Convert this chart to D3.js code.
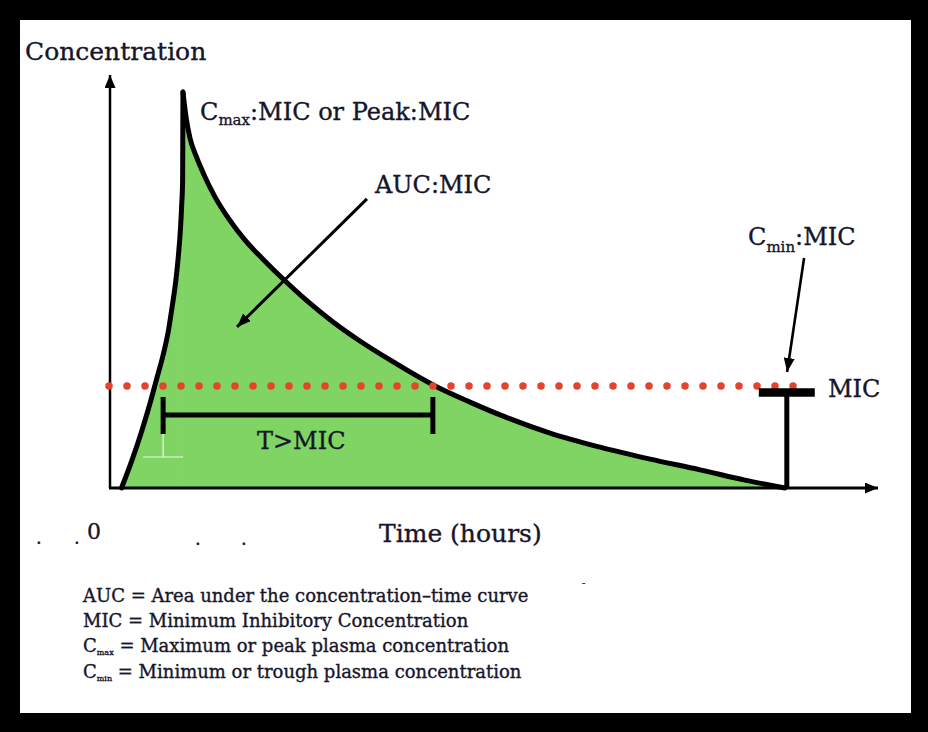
<!DOCTYPE html>
<html>
<head>
<meta charset="utf-8">
<script src="https://cdn.jsdelivr.net/npm/d3@7"></script>
<style>
  html, body { margin: 0; padding: 0; background: #000; }
  svg { display: block; }
  text { font-family: "DejaVu Serif", "Liberation Serif", serif; fill: #16162a; stroke: #16162a; stroke-width: 0.35px; }
</style>
</head>
<body>
<script>
// ---- data (time in hours, concentration in arbitrary units) ----
const riseTime  = [0.36, 0.69, 1.00, 1.28, 1.45, 1.66, 1.83, 1.95, 2.06, 2.14, 2.20, 2.24, 2.27, 2.28];
const riseConc  = [0.00, 0.68, 1.40, 2.13, 2.62, 3.22, 3.83, 4.43, 5.04, 5.65, 6.25, 6.85, 7.46, 9.59];
const decayTime = [2.28, 2.38, 2.50, 2.69, 2.94, 3.28, 3.72, 4.22, 4.78, 5.41, 6.16, 6.97, 7.81, 8.75, 10.16, 11.25, 12.19, 13.75, 15.31, 16.88, 18.44, 19.84, 21.09];
const decayConc = [9.59, 8.96, 8.47, 8.04, 7.58, 7.05, 6.51, 6.00, 5.54, 5.06, 4.53, 4.02, 3.56, 3.10, 2.47, 2.08, 1.77, 1.33, 0.99, 0.70, 0.44, 0.19, 0.00];
const micValue = 2.47;
const micRange = [0, 21.9];
const tAboveMic = [1.66, 10.09];
const cminTime = 21.15;
const aucArrow  = [[8.03, 7.0], [3.97, 3.9]];
const cminArrow = [[21.69, 5.57], [21.16, 2.81]];
const legendLines = [
  {main: "AUC = Area under the concentration\u2013time curve"},
  {main: "MIC = Minimum Inhibitory Concentration"},
  {lead: "C", sub: "max", main: " = Maximum or peak plasma concentration"},
  {lead: "C", sub: "min", main: " = Minimum or trough plasma concentration"}
];

const W = 928, H = 732;
const svg = d3.select("body").append("svg").attr("width", W).attr("height", H);
svg.append("rect").attr("width", W).attr("height", H).attr("fill", "#000");
svg.append("rect").attr("x", 20).attr("y", 20).attr("width", 891).attr("height", 693).attr("fill", "#fff");

const x = d3.scaleLinear().domain([0, 24]).range([110, 878]);
const y = d3.scaleLinear().domain([0, 10]).range([488, 75]);

const defs = svg.append("defs");
function marker(id, len, wid) {
  defs.append("marker").attr("id", id)
    .attr("markerUnits", "userSpaceOnUse")
    .attr("viewBox", `0 ${-wid/2} ${len} ${wid}`)
    .attr("refX", len).attr("refY", 0)
    .attr("markerWidth", len).attr("markerHeight", wid)
    .attr("orient", "auto")
    .append("path").attr("d", `M0,${-wid/2}L${len},0L0,${wid/2}Z`).attr("fill", "#000");
}
marker("axisHead", 13, 11);
marker("arrHead", 14, 11);

const rise = riseTime.map((t, i) => [t, riseConc[i]]);
const decay = decayTime.map((t, i) => [t, decayConc[i]]);

const area = d3.area().x(d => x(d[0])).y0(y(0)).y1(d => y(d[1])).curve(d3.curveMonotoneX);
const line = d3.line().x(d => x(d[0])).y(d => y(d[1])).curve(d3.curveMonotoneX);

// fill
svg.append("path").attr("d", area(rise)).attr("fill", "#80d463");
svg.append("path").attr("d", area(decay)).attr("fill", "#80d463");

// faint light tick
svg.append("path")
  .attr("d", `M${x(tAboveMic[0])},434V457M${x(tAboveMic[0]) - 20},457H${x(tAboveMic[0]) + 20}`)
  .attr("stroke", "#eef6ea").attr("stroke-width", 1.2).attr("fill", "none");

// axes
svg.append("line").attr("x1", x(0)).attr("y1", y(0)).attr("x2", x(0)).attr("y2", y(10))
  .attr("stroke", "#000").attr("stroke-width", 2.5).attr("marker-end", "url(#axisHead)");
svg.append("line").attr("x1", x(0) - 1).attr("y1", y(0)).attr("x2", x(24)).attr("y2", y(0))
  .attr("stroke", "#000").attr("stroke-width", 3).attr("marker-end", "url(#axisHead)");

// curve
[rise, decay].forEach(seg => {
  svg.append("path").attr("d", line(seg)).attr("fill", "none")
    .attr("stroke", "#000").attr("stroke-width", 5).attr("stroke-linejoin", "round").attr("stroke-linecap", "round");
});

// MIC dotted line
svg.append("line")
  .attr("x1", x(micRange[0]) - 1).attr("x2", x(micRange[1]))
  .attr("y1", y(micValue)).attr("y2", y(micValue))
  .attr("stroke", "#e5432e").attr("stroke-width", 7.5)
  .attr("stroke-linecap", "round").attr("stroke-dasharray", "0 18");

// T>MIC bracket
const by = y(micValue) + 29;
svg.append("path")
  .attr("d", `M${x(tAboveMic[0])},${by}H${x(tAboveMic[1])}`)
  .attr("stroke", "#000").attr("stroke-width", 5).attr("fill", "none");
tAboveMic.forEach(t => {
  svg.append("line").attr("x1", x(t)).attr("x2", x(t)).attr("y1", by - 18).attr("y2", by + 19)
    .attr("stroke", "#000").attr("stroke-width", 5);
});

// Cmin marker
svg.append("line").attr("x1", x(cminTime)).attr("x2", x(cminTime))
  .attr("y1", y(micValue) + 6).attr("y2", y(0))
  .attr("stroke", "#000").attr("stroke-width", 5);
svg.append("line").attr("x1", x(cminTime) - 28).attr("x2", x(cminTime) + 28)
  .attr("y1", y(micValue) + 6.5).attr("y2", y(micValue) + 6.5)
  .attr("stroke", "#000").attr("stroke-width", 8.5);

// annotation arrows
[[aucArrow, 3], [cminArrow, 2.6]].forEach(([a, w]) => {
  svg.append("line")
    .attr("x1", x(a[0][0])).attr("y1", y(a[0][1]))
    .attr("x2", x(a[1][0])).attr("y2", y(a[1][1]))
    .attr("stroke", "#000").attr("stroke-width", w).attr("marker-end", "url(#arrHead)");
});

// texts
function label(px, py, size, parts) {
  const t = svg.append("text").attr("x", px).attr("y", py).attr("font-size", size);
  parts.forEach(p => {
    const s = t.append("tspan").text(p.t);
    if (p.size) s.attr("font-size", p.size);
    if (p.dy) s.attr("dy", p.dy);
  });
  return t;
}
label(25, 60, 25, [{t: "Concentration"}]);
label(200, 120, 24, [{t: "C"}, {t: "max", size: 15, dy: 5}, {t: ":MIC or Peak:MIC", dy: -5}]);
label(375, 193, 24, [{t: "AUC:MIC"}]);
label(748, 245, 24, [{t: "C"}, {t: "min", size: 15, dy: 7}, {t: ":MIC", dy: -7}]);
label(828, 397, 24, [{t: "MIC"}]);
label(257, 449, 24, [{t: "T>MIC"}]);
label(379, 542, 25, [{t: "Time (hours)"}]);
label(87, 539, 22, [{t: "0"}]);
[[36, 544], [74, 544], [195, 545], [241, 545]].forEach(p => label(p[0], p[1], 18, [{t: "."}]));
label(582, 586, 10, [{t: "-"}]);

legendLines.forEach((l, i) => {
  const parts = [];
  if (l.lead) { parts.push({t: l.lead}); parts.push({t: l.sub, size: 8, dy: 3}); parts.push({t: l.main, dy: -3}); }
  else parts.push({t: l.main});
  label(83, 602 + i * 25.2, 18, parts);
});
</script>
</body>
</html>
